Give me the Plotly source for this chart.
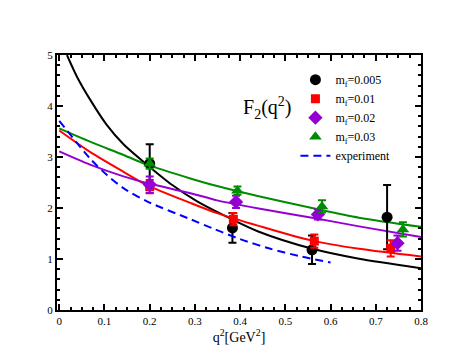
import plotly.graph_objects as go

# ---- data ----
# lattice points: x = q^2, y = F2, e = error
x_005 = [0.2, 0.383, 0.559, 0.725]
y_005 = [2.87, 1.61, 1.18, 1.82]
e_005 = [0.38, 0.29, 0.28, 0.63]

x_01 = [0.2, 0.385, 0.564, 0.733]
y_01 = [2.42, 1.78, 1.35, 1.21]
e_01 = [0.13, 0.12, 0.13, 0.16]

x_02 = [0.2, 0.391, 0.572, 0.748]
y_02 = [2.46, 2.12, 1.875, 1.31]
e_02 = [0.16, 0.12, 0.10, 0.15]

x_03 = [0.2, 0.394, 0.581, 0.76]
y_03 = [2.87, 2.34, 2.03, 1.58]
e_03 = [0.10, 0.08, 0.12, 0.14]

# fit curves
cx_005 = [0.017, 0.04, 0.07, 0.105, 0.142, 0.194, 0.25, 0.305, 0.37, 0.44, 0.56, 0.66, 0.8]
cy_005 = [5.0, 4.56, 4.1, 3.63, 3.25, 2.85, 2.45, 2.13, 1.83, 1.54, 1.2, 1.01, 0.82]

cx_01 = [0.0, 0.068, 0.142, 0.194, 0.29, 0.349, 0.441, 0.559, 0.663, 0.8]
cy_01 = [3.52, 3.1, 2.71, 2.45, 2.1, 1.9, 1.65, 1.36, 1.2, 1.05]

cx_02 = [0.0, 0.068, 0.142, 0.194, 0.29, 0.349, 0.441, 0.559, 0.663, 0.8]
cy_02 = [3.11, 2.85, 2.62, 2.49, 2.29, 2.15, 1.99, 1.81, 1.64, 1.43]

cx_03 = [0.0, 0.068, 0.142, 0.194, 0.29, 0.349, 0.441, 0.559, 0.663, 0.8]
cy_03 = [3.56, 3.3, 3.04, 2.85, 2.58, 2.43, 2.23, 2.0, 1.81, 1.63]

cx_exp = [0.0, 0.068, 0.105, 0.142, 0.194, 0.29, 0.342, 0.4, 0.467, 0.53, 0.6]
cy_exp = [3.71, 2.97, 2.65, 2.39, 2.13, 1.78, 1.59, 1.39, 1.2, 1.06, 0.93]

labels = ["m<sub>f</sub>=0.005", "m<sub>f</sub>=0.01", "m<sub>f</sub>=0.02", "m<sub>f</sub>=0.03"]
x_ticks = [0, 0.1, 0.2, 0.3, 0.4, 0.5, 0.6, 0.7, 0.8]
x_ticklabels = ["0", "0.1", "0.2", "0.3", "0.4", "0.5", "0.6", "0.7", "0.8"]
y_ticks = [0, 1, 2, 3, 4, 5]

BLACK = "#000000"
RED = "#ff0000"
PURPLE = "#9400d3"
GREEN = "#008c00"
BLUE = "#0000ff"
FONT = "Liberation Serif, Times New Roman, serif"

fig = go.Figure()

# curves first
for cx, cy, col in [(cx_005, cy_005, BLACK), (cx_01, cy_01, RED),
                    (cx_02, cy_02, PURPLE), (cx_03, cy_03, GREEN)]:
    fig.add_trace(go.Scatter(x=cx, y=cy, mode="lines",
                             line=dict(color=col, width=2, shape="spline", smoothing=0.8),
                             showlegend=False, hoverinfo="skip"))

points = [
    (x_005, y_005, e_005, BLACK, "circle", 11, labels[0]),
    (x_01, y_01, e_01, RED, "square", 9, labels[1]),
    (x_02, y_02, e_02, PURPLE, "diamond", 11, labels[2]),
    (x_03, y_03, e_03, GREEN, "triangle-up", 11, labels[3]),
]
for px, py, pe, col, sym, sz, name in points:
    fig.add_trace(go.Scatter(
        x=px, y=py, mode="markers", name=name,
        marker=dict(color=col, symbol=sym, size=sz, line=dict(width=0)),
        error_y=dict(type="data", array=pe, visible=True, color=col, thickness=2, width=4),
    ))

fig.add_trace(go.Scatter(x=cx_exp, y=cy_exp, mode="lines", name="experiment",
                         line=dict(color=BLUE, width=2, dash="8px,5px", shape="spline", smoothing=0.8)))

axis_common = dict(
    showline=True, linecolor="black", linewidth=2, mirror="allticks",
    ticks="inside", ticklen=6, tickwidth=2, tickcolor="black",
    showgrid=False, zeroline=False,
    tickfont=dict(family=FONT, size=11, color="black"),
)

fig.update_xaxes(
    range=[-0.005, 0.8], tickvals=x_ticks, ticktext=x_ticklabels,
    minor=dict(ticks="inside", ticklen=3, tickwidth=2, tickcolor="black", dtick=0.025),
    title=dict(text="q<sup>2</sup>[GeV<sup>2</sup>]", font=dict(family=FONT, size=14, color="black"), standoff=5),
    **axis_common,
)
fig.update_yaxes(
    range=[0, 5], tickvals=y_ticks,
    minor=dict(ticks="inside", ticklen=3, tickwidth=2, tickcolor="black", dtick=0.2),
    **axis_common,
)

fig.add_annotation(text="F<sub>2</sub>(q<sup>2</sup>)", xref="paper", yref="paper",
                   x=0.577, y=0.855, showarrow=False,
                   font=dict(family=FONT, size=20, color="black"))

fig.update_layout(
    width=474, height=353,
    margin=dict(l=57, r=53, t=55, b=43),
    plot_bgcolor="white", paper_bgcolor="white",
    font=dict(family=FONT, color="black"),
    legend=dict(x=0.655, y=0.96, xanchor="left", yanchor="top",
                bgcolor="rgba(0,0,0,0)", borderwidth=0,
                font=dict(family=FONT, size=12, color="black"),
                tracegroupgap=0, itemwidth=30),
)

fig.write_html("out.html")
